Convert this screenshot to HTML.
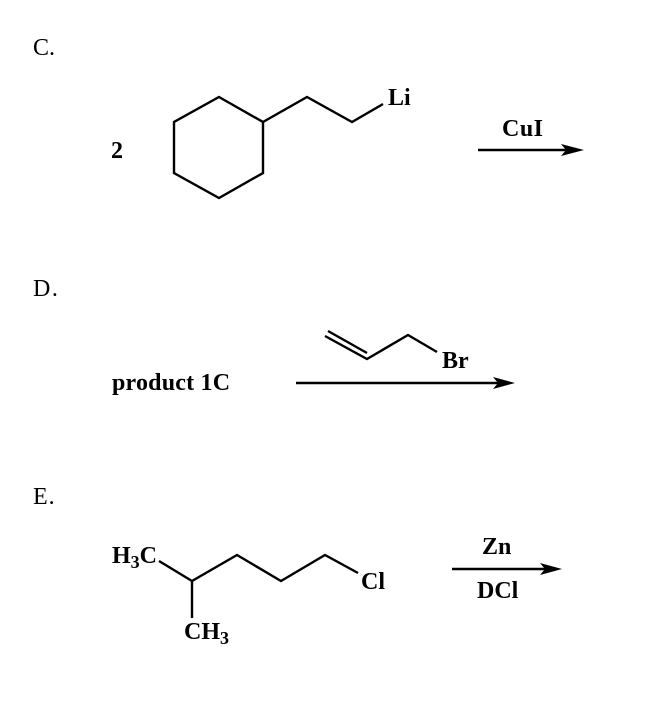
<!DOCTYPE html>
<html>
<head>
<meta charset="utf-8">
<style>
html,body{margin:0;padding:0;background:#fff;width:664px;height:702px;overflow:hidden}
svg{display:block}
text{font-family:"Liberation Serif",serif;fill:#000}
.b{font-weight:bold;font-size:24px}
.r{font-size:24px}
.s{font-size:18px;font-weight:bold}
line,polyline,polygon.l{stroke:#000;stroke-width:2.4;fill:none;stroke-linejoin:miter;stroke-linecap:butt}
</style>
</head>
<body>
<svg width="664" height="702" viewBox="0 0 664 702" xmlns="http://www.w3.org/2000/svg">
<text class="r" x="33" y="55">C.</text>
<text class="r" x="33" y="296" letter-spacing="1.5">D.</text>
<text class="r" x="33" y="504" letter-spacing="1">E.</text>

<text class="b" x="111" y="158">2</text>
<polygon class="l" points="219,97 263,122 263,173 219,198 174,173 174,122"/>
<polyline points="263,122 307,97 352,122 383,104"/>
<text class="b" x="388" y="105">Li</text>
<text class="b" x="502" y="136" letter-spacing="0.5">CuI</text>
<line x1="478" y1="150" x2="566" y2="150"/>
<polygon points="584,150 561,144 566,150 561,156" fill="#000"/>

<text class="b" x="112" y="390" letter-spacing="0.2">product 1C</text>
<line x1="328" y1="331" x2="367" y2="353"/>
<polyline points="325,336 367,359 408,335 437,352"/>
<text class="b" x="442" y="368">Br</text>
<line x1="296" y1="383" x2="498" y2="383"/>
<polygon points="515,383 493,377 498,383 493,389" fill="#000"/>

<text class="b" x="112" y="563">H<tspan class="s" dy="5">3</tspan><tspan dy="-5">C</tspan></text>
<polyline points="159,561 192,581 237,555 281,581 325,555 358,573"/>
<line x1="192" y1="581" x2="192" y2="618"/>
<text class="b" x="184" y="639">CH<tspan class="s" dy="5">3</tspan></text>
<text class="b" x="361" y="589">Cl</text>
<text class="b" x="482" y="554">Zn</text>
<line x1="452" y1="569" x2="545" y2="569"/>
<polygon points="562,569 540,563 545,569 540,575" fill="#000"/>
<text class="b" x="477" y="598">DCl</text>
</svg>
</body>
</html>
